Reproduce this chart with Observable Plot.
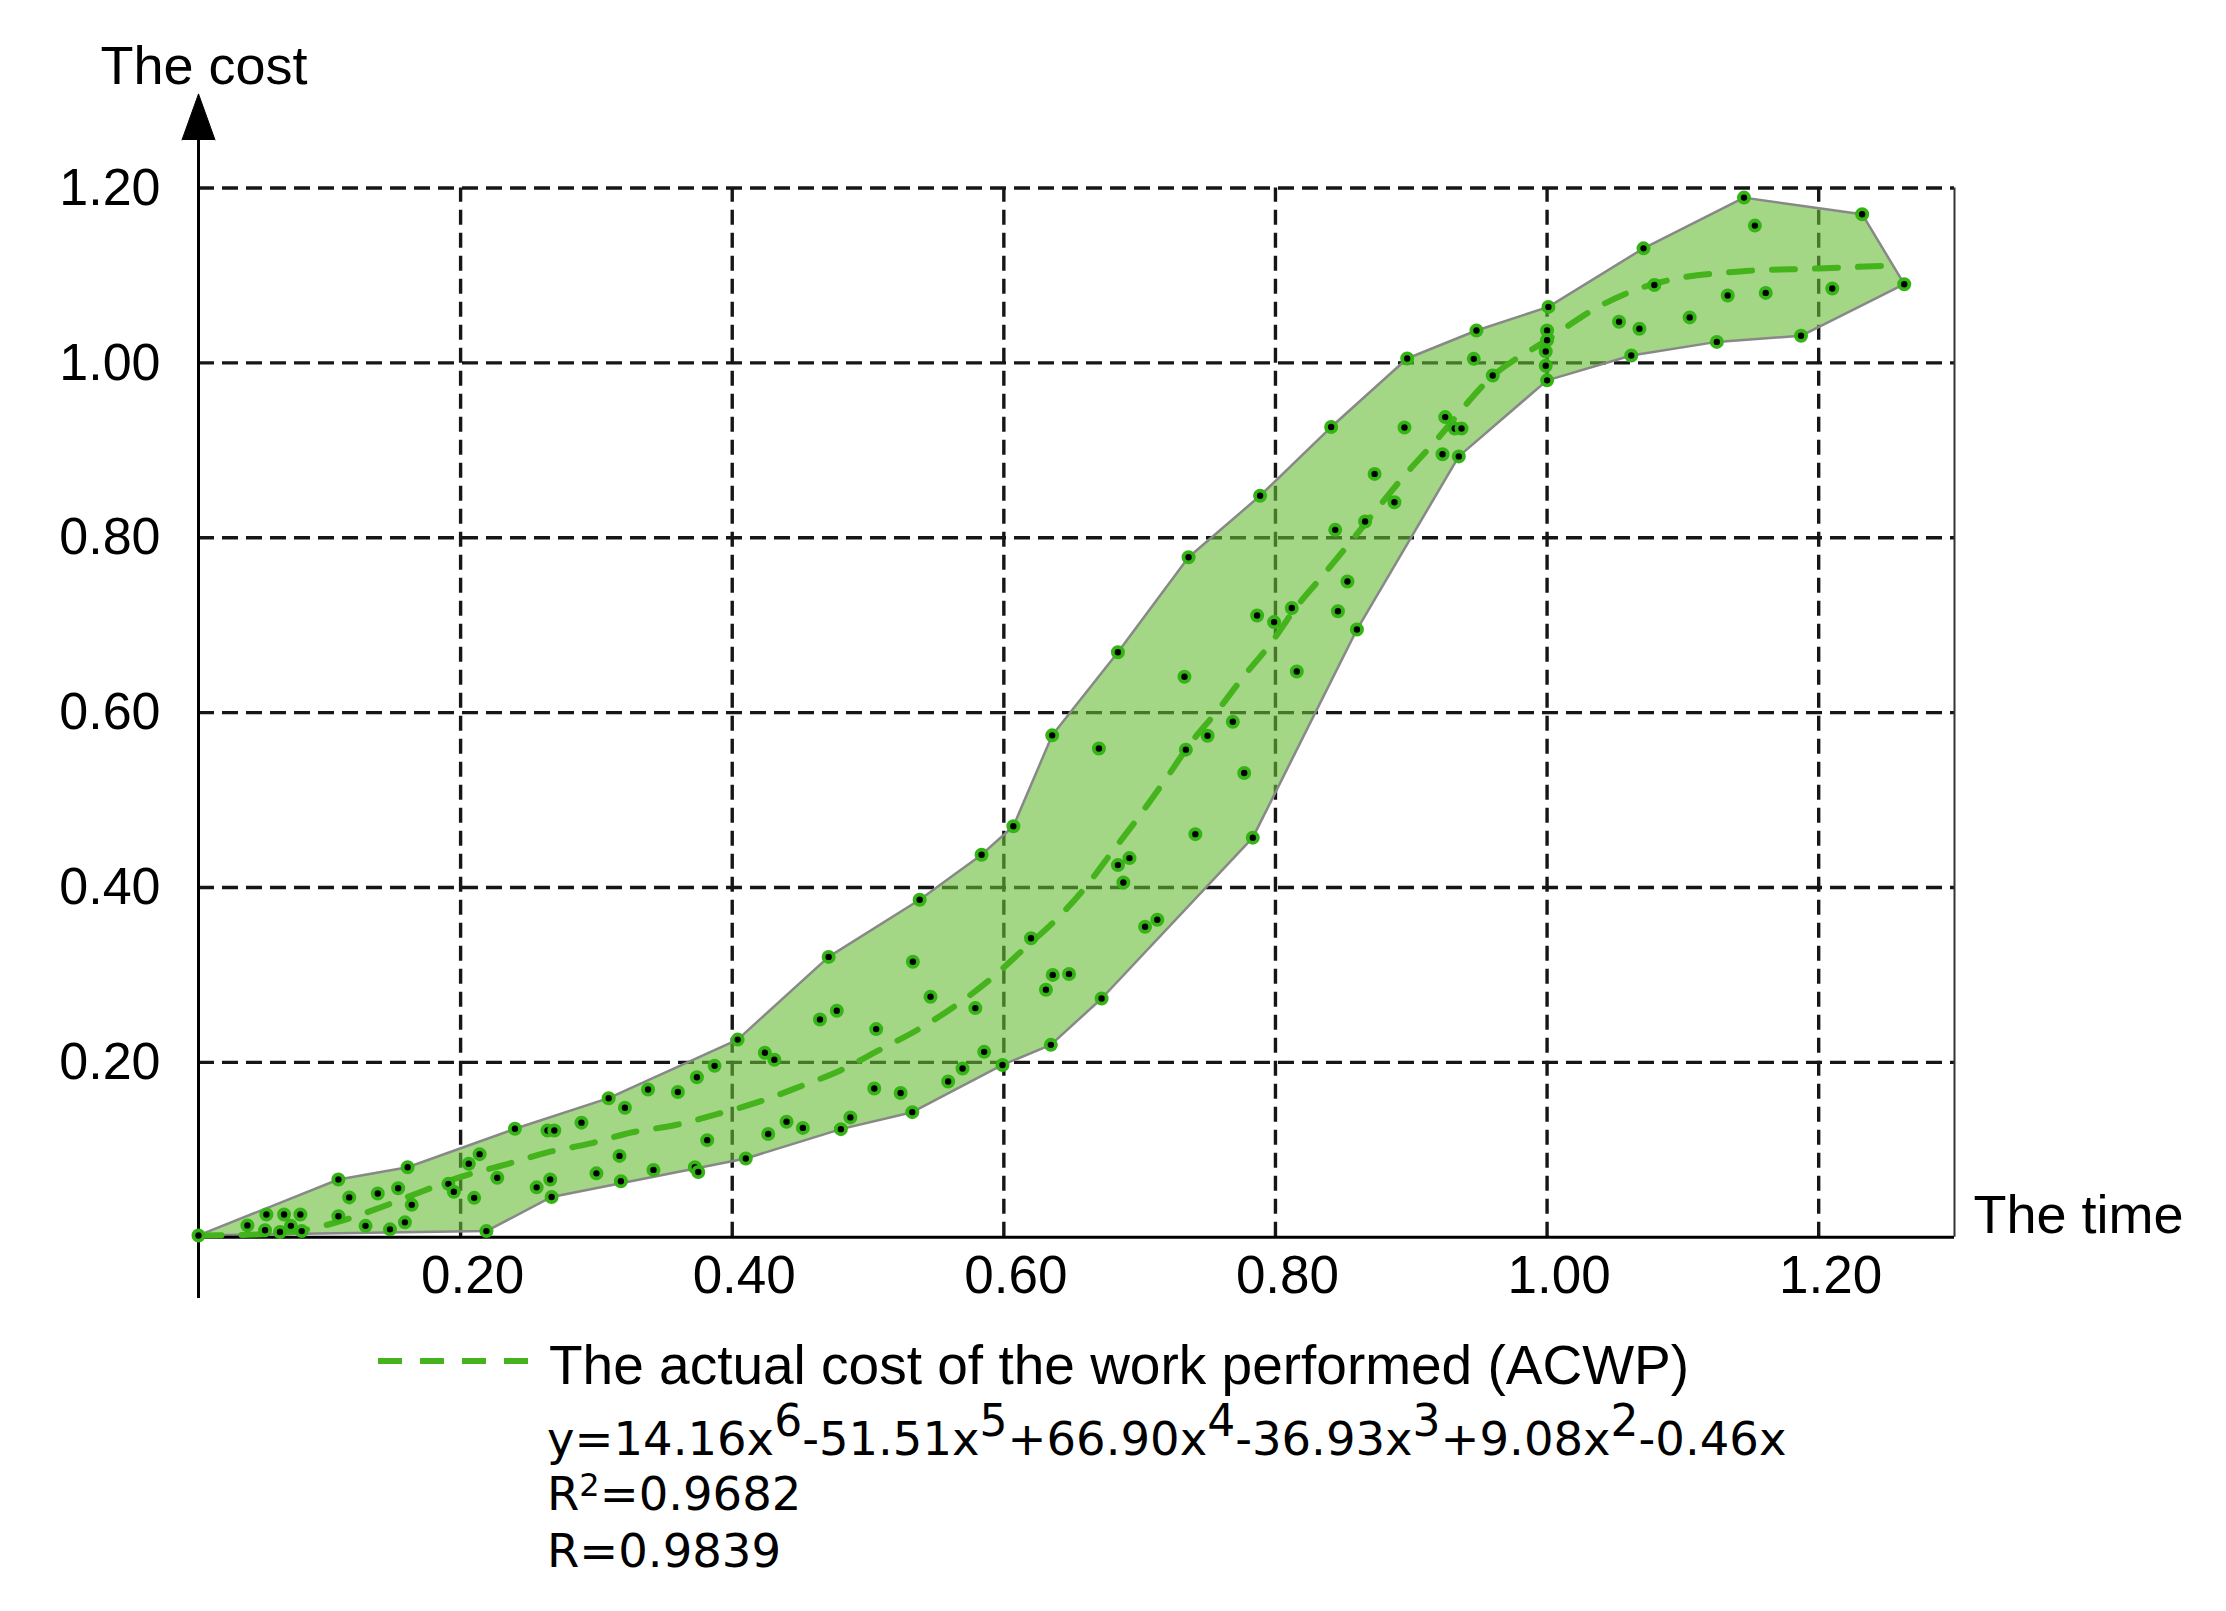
<!DOCTYPE html>
<html>
<head>
<meta charset="utf-8">
<script src="https://cdn.jsdelivr.net/npm/d3@7"></script>
<script src="https://cdn.jsdelivr.net/npm/@observablehq/plot@0.6"></script>
<style>
html, body { margin: 0; padding: 0; background: #fff; }
#chart svg, #legend svg { display: block; }
</style>
</head>
<body>
<div id="chart"></div>
<div id="legend"></div>
<script>
// ---------- data ----------
const xTicks = [0.2, 0.4, 0.6, 0.8, 1.0, 1.2];
const xTickLabels = ["0.20", "0.40", "0.60", "0.80", "1.00", "1.20"];
const yTicks = [0.2, 0.4, 0.6, 0.8, 1.0, 1.2];
const yTickLabels = ["0.20", "0.40", "0.60", "0.80", "1.00", "1.20"];
const xDomain = [0.007, 1.30];
const yDomain = [0, 1.2];
const yAxisExtent = [-0.07, 1.255];
const xTitle = "The time";
const yTitle = "The cost";

const pointsX = [
0.007,0.043,0.057,0.070,0.082,0.056,0.067,0.075,0.083,0.110,
0.110,0.118,0.139,0.154,0.161,0.130,0.148,0.159,0.164,0.191,
0.195,0.206,0.214,0.210,0.219,0.227,0.240,0.264,0.269,0.256,
0.266,0.267,
0.289,0.300,0.309,0.317,0.318,0.321,0.338,0.342,0.360,0.3725,
0.375,0.374,0.3816,0.387,0.404,0.410,0.424,0.4265,0.431,0.440,
0.452,0.4646,0.471,0.477,0.480,0.487,0.5046,0.506,
0.607,0.5836,0.538,0.533,0.546,0.620,0.636,0.648,0.631,0.672,
0.579,0.5855,0.6346,0.599,0.5696,0.559,0.524,0.5326,
0.6356,
0.670,0.684,0.688,0.684,0.6925,0.704,0.713,0.733,0.734,0.736,
0.741,0.750,0.7686,0.777,0.7833,0.7865,0.7887,0.799,0.812,0.8157,
0.841,0.844,0.846,0.853,0.860,0.866,0.873,0.8876,0.895,0.897,
0.923,0.925,0.932,0.937,0.935,0.946,0.948,0.960,1.001,1.000,
1.000,0.999,0.999,1.000,1.053,1.062,1.068,1.071,1.079,1.105,
1.125,1.133,1.145,1.153,1.161,1.187,1.210,1.232,1.263];
const pointsY = [
0.002,0.0135,0.026,0.026,0.026,0.008,0.006,0.013,0.007,0.066,
0.024,0.0455,0.050,0.056,0.080,0.013,0.009,0.017,0.037,0.061,
0.052,0.084,0.095,0.045,0.007,0.068,0.124,0.122,0.122,0.057,
0.066,0.046,
0.131,0.073,0.159,0.093,0.064,0.148,0.169,0.077,0.166,0.080,
0.0745,0.183,0.111,0.196,0.226,0.090,0.211,0.118,0.203,0.132,
0.125,0.249,0.3206,0.259,0.1236,0.137,0.170,0.238,
0.470,0.4375,0.386,0.315,0.275,0.342,0.300,0.301,0.283,0.273,
0.262,0.212,0.220,0.197,0.193,0.178,0.165,0.143,
0.574,
0.559,0.669,0.4056,0.4256,0.4336,0.355,0.363,0.641,0.5576,0.7776,
0.461,0.5736,0.5896,0.531,0.457,0.711,0.848,0.7035,0.7196,0.647,
0.9266,0.809,0.716,0.750,0.695,0.8186,0.873,0.8406,0.926,1.005,
0.8955,0.938,0.925,0.925,0.893,1.0046,1.037,0.9856,1.064,1.037,
1.026,1.013,0.9967,0.980,1.047,1.0085,1.039,1.131,1.089,1.052,
1.024,1.077,1.189,1.157,1.080,1.031,1.085,1.170,1.090];

const bandX = [0.007,0.110,0.161,0.240,0.309,0.404,0.471,0.538,0.5836,0.607,
0.6356,0.684,0.736,0.7887,0.841,0.897,0.948,1.001,1.071,1.145,
1.232,1.263,1.187,1.125,1.062,1.000,0.935,0.860,0.7833,0.672,
0.6346,0.599,0.5326,0.480,0.410,0.267,0.219];
const bandY = [0.002,0.066,0.080,0.124,0.159,0.226,0.3206,0.386,0.4375,0.470,
0.574,0.669,0.7776,0.848,0.9266,1.005,1.037,1.064,1.131,1.189,
1.170,1.090,1.031,1.024,1.0085,0.980,0.893,0.695,0.457,0.273,
0.220,0.197,0.143,0.1236,0.090,0.046,0.007];

const trendX = [0.007,0.05,0.08,0.111,0.141,0.171,0.20,0.233,0.264,0.295,
0.3265,0.3575,0.3895,0.42,0.451,0.48,0.507,0.539,0.566,0.592,
0.615,0.638,0.66,0.677,0.698,0.7175,0.738,0.7575,0.7764,0.797,
0.815,0.835,0.8557,0.8754,0.896,0.9164,0.96,1.00,1.04,1.0825,
1.146,1.20,1.247];
const trendY = [0.002,0.003,0.007,0.018,0.034,0.052,0.069,0.083,0.097,0.107,
0.120,0.128,0.141,0.155,0.173,0.191,0.213,0.2395,0.2665,0.2975,
0.330,0.3625,0.400,0.435,0.478,0.520,0.566,0.6025,0.641,0.680,
0.720,0.757,0.796,0.834,0.873,0.908,0.985,1.026,1.066,1.092,
1.105,1.108,1.111];

const legendLabel = "The actual cost of the work performed (ACWP)";
const eqTerms = [["y=14.16x","6"],["-51.51x","5"],["+66.90x","4"],["-36.93x","3"],["+9.08x","2"],["-0.46x",""]];
const r2Terms = [["R","2"],["=0.9682",""]];
const rTerms = [["R=0.9839",""]];

// ---------- build tables ----------
const points = pointsX.map((x, i) => ({x, y: pointsY[i]}));
const band = bandX.map((x, i) => ({x, y: bandY[i]}));
const trend = trendX.map((x, i) => ({x, y: trendY[i]}));

const W = 2226, H = 1330;
const font = "'Liberation Sans', Arial, sans-serif";
const green = "#45b31c";

const chart = Plot.plot({
  width: W,
  height: H,
  marginLeft: 198,
  marginRight: 272,
  marginTop: 187.5,
  marginBottom: 93.3,
  x: {domain: xDomain},
  y: {domain: yDomain},
  style: {fontFamily: font, color: "#000", background: "#fff", overflow: "visible"},
  marks: [
    Plot.ruleX(xTicks, {y1: yDomain[0], y2: yDomain[1], stroke: "#161616", strokeWidth: 3.4, strokeDasharray: "15,8"}),
    Plot.ruleY(yTicks, {x1: xDomain[0], x2: xDomain[1], stroke: "#161616", strokeWidth: 3.4, strokeDasharray: "16,8"}),
    Plot.line(band, {x: "x", y: "y", curve: "linear-closed", fill: "#66bb33", fillOpacity: 0.6, stroke: "#888888", strokeWidth: 2.5}),
    Plot.ruleX([xDomain[1]], {y1: yDomain[0], y2: yDomain[1], stroke: "#333", strokeWidth: 2}),
    Plot.ruleY([yDomain[0]], {x1: xDomain[0], x2: xDomain[1], stroke: "#000", strokeWidth: 3}),
    Plot.ruleX([xDomain[0]], {y1: yAxisExtent[0], y2: yAxisExtent[1], stroke: "#000", strokeWidth: 3}),
    Plot.vector([0], {x: () => xDomain[0], y: () => yAxisExtent[1], length: 46, r: 16.5, shape: "spike", anchor: "start", rotate: 0, fill: "#000", stroke: "#000", strokeWidth: 1}),
    Plot.line(trend, {x: "x", y: "y", curve: "monotone-x", stroke: green, strokeWidth: 6, strokeDasharray: "23,20"}),
    Plot.dot(points, {x: "x", y: "y", r: 5.1, fill: "#000", stroke: "#35b515", strokeWidth: 3.8}),
    Plot.axisX({ticks: xTicks, tickSize: 0, tickPadding: 18, fontSize: 53, dx: 12, tickFormat: d => xTickLabels[xTicks.indexOf(d)], label: null}),
    Plot.axisY({ticks: yTicks, tickSize: 0, tickPadding: 38, fontSize: 52, tickFormat: d => yTickLabels[yTicks.indexOf(d)], label: null}),
    Plot.text([yTitle], {x: () => xDomain[0], y: () => yDomain[1], text: d => d, dx: -98, dy: -104, textAnchor: "start", lineAnchor: "bottom", fontSize: 54, fill: "#000"}),
    Plot.text([xTitle], {x: () => xDomain[1], y: () => yDomain[0], text: d => d, dx: 19, dy: -4, textAnchor: "start", lineAnchor: "bottom", fontSize: 54, fill: "#000"})
  ]
});
document.getElementById("chart").appendChild(chart);

// ---------- legend below the chart ----------
const leg = d3.select("#legend").append("svg")
  .attr("width", W).attr("height", 1611 - H);
leg.append("line")
  .attr("x1", 378).attr("x2", 528).attr("y1", 31).attr("y2", 31)
  .attr("stroke", green).attr("stroke-width", 6).attr("stroke-dasharray", "24,18");
leg.append("text")
  .attr("x", 549).attr("y", 54)
  .attr("font-family", font).attr("font-size", 55).attr("fill", "#000")
  .text(legendLabel);

function supLine(terms, y, supSize, raise) {
  const t = leg.append("text")
    .attr("x", 547).attr("y", y)
    .attr("font-family", "'DejaVu Sans', Verdana, sans-serif")
    .attr("font-size", 46.5).attr("fill", "#000");
  let raised = false;
  terms.forEach(([base, sup]) => {
    const b = t.append("tspan").text(base);
    if (raised) { b.attr("dy", raise); raised = false; }
    if (sup) {
      t.append("tspan").attr("dy", -raise).attr("font-size", supSize).text(sup);
      raised = true;
    }
  });
}
supLine(eqTerms, 125, 44, 19);
supLine(r2Terms, 180, 32, 14);
supLine(rTerms, 237, 32, 14);
</script>
</body>
</html>
